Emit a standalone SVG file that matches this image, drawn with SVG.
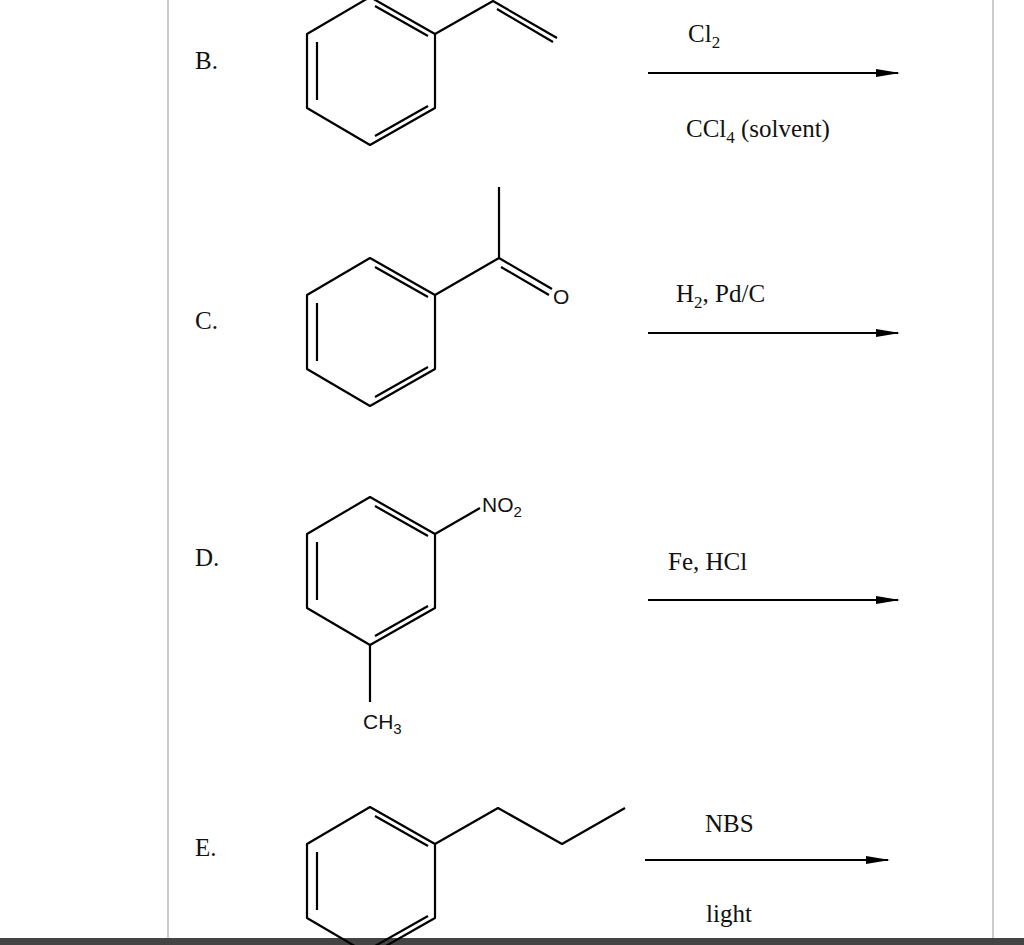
<svg xmlns="http://www.w3.org/2000/svg" width="1024" height="945" viewBox="0 0 1024 945">
<style>
.b{stroke:#000;stroke-width:2.2;fill:none;stroke-linejoin:round}
.t{font-family:"Liberation Serif",serif;font-size:25px;fill:#111}
.s{font-family:"Liberation Sans",sans-serif;font-size:21px;fill:#111}
.a{stroke:#000;stroke-width:2;marker-end:url(#ah)}
</style>
<defs>
<marker id="ah" markerWidth="24" markerHeight="10" refX="22" refY="5" orient="auto" markerUnits="userSpaceOnUse"><path d="M0,1 L24,5 L0,9 Z" fill="#000"/></marker>
<g id="ring"><path class="b" d="M0,-37 L65,0 L65,74 L0,111 L-63,74 L-63,0 Z"/><path class="b" d="M-53,8 L-53,66 M5,-28 L58,2 M5,102 L58,72"/></g>
</defs>
<rect width="1024" height="945" fill="#fff"/>
<line x1="168" y1="0" x2="168" y2="945" stroke="#bbb" stroke-width="1.5"/>
<line x1="993" y1="0" x2="993" y2="945" stroke="#bbb" stroke-width="1.5"/>
<rect x="0" y="938" width="1024" height="7" fill="#444"/>
<g id="labels">
<text class="t" x="195" y="69">B.</text>
<text class="t" x="195" y="329">C.</text>
<text class="t" x="195" y="566">D.</text>
<text class="t" x="195" y="856">E.</text>
</g>
<g id="molB"><use href="#ring" x="370" y="34"/><path class="b" d="M435,34 L493,1 L557,38 M497,9 L553,42"/></g>
<g id="molC"><use href="#ring" x="370" y="295"/><path class="b" d="M435,295 L499,258 L499,187 M499,258 L552,289 M501,267 L549,295"/><text class="s" x="553" y="304">O</text></g>
<g id="molD"><use href="#ring" x="370" y="534"/><path class="b" d="M435,534 L480,508 M370,645 L370,702"/><text class="s" x="482" y="512">NO<tspan font-size="15" dy="5">2</tspan></text><text class="s" x="363" y="729">CH<tspan font-size="15" dy="5">3</tspan></text></g>
<g id="molE"><use href="#ring" x="370" y="844"/><path class="b" d="M435,844 L498,808 L562,844 L625,808"/></g>
<g id="connectors">
<line class="a" x1="648" y1="73" x2="898" y2="73"/>
<line class="a" x1="648" y1="333" x2="898" y2="333"/>
<line class="a" x1="648" y1="600" x2="898" y2="600"/>
<line class="a" x1="645" y1="860" x2="888" y2="860"/>
</g>
<g id="reagents">
<text class="t" x="688" y="42">Cl<tspan font-size="17" dy="6">2</tspan></text>
<text class="t" x="686" y="137">CCl<tspan font-size="17" dy="6">4</tspan><tspan dy="-6"> (solvent)</tspan></text>
<text class="t" x="676" y="302">H<tspan font-size="17" dy="6">2</tspan><tspan dy="-6">, Pd/C</tspan></text>
<text class="t" x="668" y="570">Fe, HCl</text>
<text class="t" x="705" y="832">NBS</text>
<text class="t" x="706" y="922">light</text>
</g>
</svg>
